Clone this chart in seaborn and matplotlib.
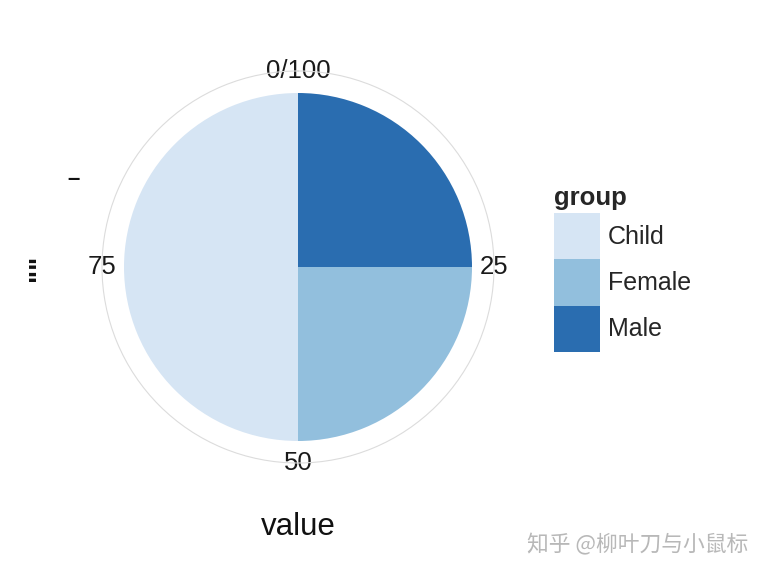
import numpy as np
import matplotlib
matplotlib.use("Agg")
import matplotlib.pyplot as plt
import seaborn as sns
from matplotlib.patches import Patch

# data
groups = ["Male", "Female", "Child"]
values = [25, 25, 50]
legend_order = ["Child", "Female", "Male"]
tick_values = [0, 25, 50, 75]
tick_labels = ["0/100", "25", "50", "75"]
colors = {"Child": "#d6e5f4", "Female": "#92bfdd", "Male": "#2a6db0"}

sns.set_theme(style="white")
plt.rcParams["font.family"] = ["Liberation Sans", "DejaVu Sans"]

W, H = 768, 576
fig = plt.figure(figsize=(W / 100, H / 100), dpi=100)
fig.patch.set_facecolor("white")

# polar panel: outer circle center (298,267) radius 196 px
cx, cy, R = 298, 267, 196
ax = fig.add_axes([(cx - R) / W, (H - cy - R) / H, 2 * R / W, 2 * R / H], projection="polar")
ax.set_theta_zero_location("N")
ax.set_theta_direction(-1)

total = sum(values)
vals = np.array(values, dtype=float)
starts = np.concatenate([[0], np.cumsum(vals)[:-1]])
scale = 2 * np.pi / total
ax.bar(starts * scale, 1.0, width=vals * scale, align="edge",
       color=[colors[g] for g in groups], edgecolor="none", linewidth=0)

ax.set_ylim(0, 196 / 174)
ax.set_yticks([])
ax.set_xticks(np.array(tick_values) * scale)
ax.set_xticklabels(tick_labels, fontsize=18.5, color="#1a1a1a")
ax.tick_params(axis="x", pad=-13)
ax.grid(False)
ax.spines["polar"].set_color("#dcdcdc")
ax.spines["polar"].set_linewidth(0.8)
ax.set_facecolor("white")

# axis label
fig.text(cx / W, 1 - 527 / H, "value", ha="center", va="center", fontsize=22.5, color="#111111")
# r-axis remnants on the left
fig.text(40 / W, 1 - 268 / H, '""', rotation=90, ha="center", va="center",
         fontsize=20, fontweight="bold", color="#111111")
fig.text(74 / W, 1 - 179 / H, "–", ha="center", va="center", fontsize=16,
         fontweight="bold", color="#111111")

# legend
handles = [Patch(facecolor=colors[g], edgecolor="none", label=g) for g in legend_order]
leg = fig.legend(handles=handles, title="group", loc="upper left",
                 bbox_to_anchor=(554 / W, 1 - 186 / H), frameon=False,
                 fontsize=18, title_fontsize=18.5, handlelength=1.85, handleheight=2.48,
                 labelspacing=0.0, handletextpad=0.3, borderpad=0, borderaxespad=0)
leg.get_title().set_fontweight("bold")
leg._legend_box.align = "left"
leg._legend_box.sep = 2

# watermark
fig.text(638 / W, 1 - 545 / H, "知乎 @柳叶刀与小鼠标", ha="center", va="center",
         fontsize=15.7, color="#b8b8b8", family=["Noto Sans CJK SC", "DejaVu Sans"])

fig.savefig("out.png", dpi=100)
